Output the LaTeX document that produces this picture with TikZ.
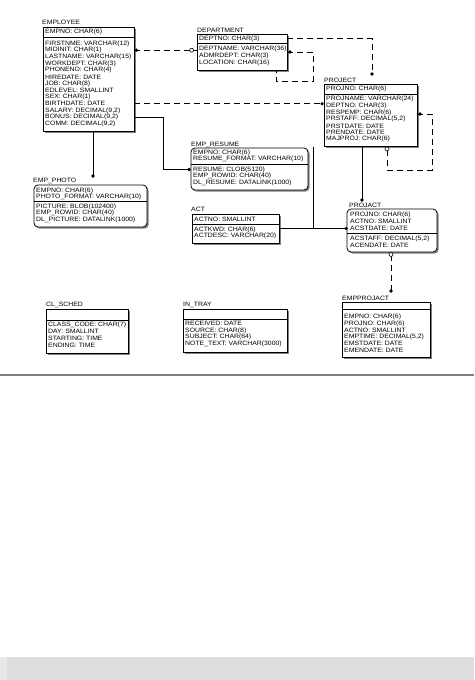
\documentclass[tikz,border=0pt]{standalone}
\usepackage{fontspec}
\setmainfont{Liberation Sans}
\newfontfamily\erdfont[FakeStretch=1.1]{Liberation Sans}
\usetikzlibrary{fit,shadows}
\begin{document}
\begin{tikzpicture}[x=1pt,y=-1pt,
  txt/.style={font=\erdfont\fontsize{6.25}{7}\selectfont, inner sep=0pt, anchor=west},
  ent/.style={draw, line width=0.8pt, fill=white, inner sep=0pt,
    drop shadow={shadow xshift=1.6pt, shadow yshift=-1.6pt, fill=black!50, opacity=1}},
  dep/.style={ent, rounded corners=4pt},
  sepl/.style={line width=0.6pt},
  rel/.style={line width=0.7pt},
  rdash/.style={rel, dash pattern=on 6pt off 4pt},
  fdot/.style={fill=black},
  odot/.style={draw, fill=white, line width=0.6pt}]

\useasboundingbox (0,0) rectangle (474,680);
\fill[white] (0,0) rectangle (474,680);

% ---------------- EMPLOYEE
\node[ent, fit={(43,27) (134,131)}] (emp) {};
\draw[sepl] (emp.west |- 0,37) -- (emp.east |- 0,37);
\node[txt] (empL) at (42,22.5) {EMPLOYEE};
\node[txt] (e0) at (45,32) {EMPNO: CHAR(6)};
\node[txt] (e1) at (45,43.5) {FIRSTNME: VARCHAR(12)};
\node[txt] (e2) at (45,50.2) {MIDINIT: CHAR(1)};
\node[txt] (e3) at (45,56.9) {LASTNAME: VARCHAR(15)};
\node[txt] (e4) at (45,63.6) {WORKDEPT: CHAR(3)};
\node[txt] (e5) at (45,70.3) {PHONENO: CHAR(4)};
\node[txt] (e6) at (45,77) {HIREDATE: DATE};
\node[txt] (e7) at (45,83.7) {JOB: CHAR(8)};
\node[txt] (e8) at (45,90.4) {EDLEVEL: SMALLINT};
\node[txt] (e9) at (45,97.1) {SEX: CHAR(1)};
\node[txt] (e10) at (45,103.8) {BIRTHDATE: DATE};
\node[txt] (e11) at (45,110.5) {SALARY: DECIMAL(9,2)};
\node[txt] (e12) at (45,117.2) {BONUS: DECIMAL(9,2)};
\node[txt] (e13) at (45,123.9) {COMM: DECIMAL(9,2)};

% ---------------- DEPARTMENT
\node[ent, fit={(197,34) (287,70)}] (dept) {};
\draw[sepl] (dept.west |- 0,43.5) -- (dept.east |- 0,43.5);
\node[txt] (deptL) at (197,30) {DEPARTMENT};
\node[txt] (d0) at (199,38.8) {DEPTNO: CHAR(3)};
\node[txt] (d1) at (199,49.3) {DEPTNAME: VARCHAR(36)};
\node[txt] (d2) at (199,56) {ADMRDEPT: CHAR(3)};
\node[txt] (d3) at (199,62.7) {LOCATION: CHAR(16)};

% ---------------- PROJECT
\node[ent, fit={(324,84) (417,146)}] (proj) {};
\draw[sepl] (proj.west |- 0,94) -- (proj.east |- 0,94);
\node[txt] (projL) at (324,80) {PROJECT};
\node[txt] (p0) at (326,89) {PROJNO: CHAR(6)};
\node[txt] (p1) at (326,99.3) {PROJNAME: VARCHAR(24)};
\node[txt] (p2) at (326,106) {DEPTNO: CHAR(3)};
\node[txt] (p3) at (326,112.7) {RESPEMP: CHAR(6)};
\node[txt] (p4) at (326,119.3) {PRSTAFF: DECIMAL(5,2)};
\node[txt] (p5) at (326,126) {PRSTDATE: DATE};
\node[txt] (p6) at (326,132.7) {PRENDATE: DATE};
\node[txt] (p7) at (326,139.3) {MAJPROJ: CHAR(6)};

% ---------------- EMP_PHOTO
\node[dep, fit={(34,185) (147,227)}] (photo) {};
\draw[sepl] (photo.west |- 0,201.5) -- (photo.east |- 0,201.5);
\node[txt] (photoL) at (33,181) {EMP\_PHOTO};
\node[txt] (f0) at (36,190.5) {EMPNO: CHAR(6)};
\node[txt] (f1) at (36,197.2) {PHOTO\_FORMAT: VARCHAR(10)};
\node[txt] (f2) at (36,206.5) {PICTURE: BLOB(102400)};
\node[txt] (f3) at (36,213.2) {EMP\_ROWID: CHAR(40)};
\node[txt] (f4) at (36,219.9) {DL\_PICTURE: DATALINK(1000)};

% ---------------- EMP_RESUME
\node[dep, fit={(191,148) (308,190)}] (res) {};
\draw[sepl] (res.west |- 0,164) -- (res.east |- 0,164);
\node[txt] (resL) at (191,144.5) {EMP\_RESUME};
\node[txt] (s0) at (193,152.5) {EMPNO: CHAR(6)};
\node[txt] (s1) at (193,159.2) {RESUME\_FORMAT: VARCHAR(10)};
\node[txt] (s2) at (193,169.5) {RESUME: CLOB(5120)};
\node[txt] (s3) at (193,176.2) {EMP\_ROWID: CHAR(40)};
\node[txt] (s4) at (193,182.9) {DL\_RESUME: DATALINK(1000)};

% ---------------- ACT
\node[ent, fit={(192,214) (279,243)}] (act) {};
\draw[sepl] (act.west |- 0,224.5) -- (act.east |- 0,224.5);
\node[txt] (actL) at (191,209.5) {ACT};
\node[txt] (a0) at (194,219.2) {ACTNO: SMALLINT};
\node[txt] (a1) at (194,229.5) {ACTKWD: CHAR(6)};
\node[txt] (a2) at (194,236.2) {ACTDESC: VARCHAR(20)};

% ---------------- PROJACT
\node[dep, fit={(347,209) (437,252)}] (pa) {};
\draw[sepl] (pa.west |- 0,233) -- (pa.east |- 0,233);
\node[txt] (paL) at (349,205) {PROJACT};
\node[txt] (q0) at (350,214.5) {PROJNO: CHAR(6)};
\node[txt] (q1) at (350,221.2) {ACTNO: SMALLINT};
\node[txt] (q2) at (350,227.9) {ACSTDATE: DATE};
\node[txt] (q3) at (350,238.5) {ACSTAFF: DECIMAL(5,2)};
\node[txt] (q4) at (350,245.2) {ACENDATE: DATE};

% ---------------- EMPPROJACT
\node[ent, fit={(342,302) (430,357)}] (epa) {};
\draw[sepl] (epa.west |- 0,309.5) -- (epa.east |- 0,309.5);
\node[txt] (epaL) at (342,298) {EMPPROJACT};
\node[txt] (g0) at (344,317) {EMPNO: CHAR(6)};
\node[txt] (g1) at (344,323.7) {PROJNO: CHAR(6)};
\node[txt] (g2) at (344,330.4) {ACTNO: SMALLINT};
\node[txt] (g3) at (344,337.1) {EMPTIME: DECIMAL(5,2)};
\node[txt] (g4) at (344,343.8) {EMSTDATE: DATE};
\node[txt] (g5) at (344,350.5) {EMENDATE: DATE};

% ---------------- CL_SCHED
\node[ent, fit={(46,309) (128,353)}] (cl) {};
\draw[sepl] (cl.west |- 0,320) -- (cl.east |- 0,320);
\node[txt] (clL) at (46,305) {CL\_SCHED};
\node[txt] (c0) at (48,324.8) {CLASS\_CODE: CHAR(7)};
\node[txt] (c1) at (48,331.5) {DAY: SMALLINT};
\node[txt] (c2) at (48,338.2) {STARTING: TIME};
\node[txt] (c3) at (48,344.9) {ENDING: TIME};

% ---------------- IN_TRAY
\node[ent, fit={(183,309) (287,352)}] (tray) {};
\draw[sepl] (tray.west |- 0,319.5) -- (tray.east |- 0,319.5);
\node[txt] (trayL) at (183,305) {IN\_TRAY};
\node[txt] (t0) at (185,323.8) {RECEIVED: DATE};
\node[txt] (t1) at (185,330.5) {SOURCE: CHAR(8)};
\node[txt] (t2) at (185,337.2) {SUBJECT: CHAR(64)};
\node[txt] (t3) at (185,343.9) {NOTE\_TEXT: VARCHAR(3000)};

% ================= relationships
% EMPLOYEE - DEPARTMENT
\coordinate (r1a) at (emp.east |- e2);
\coordinate (r1b) at (dept.west |- e2);
\draw[rdash] (r1a) -- (r1b);
\fill[fdot] ([xshift=2pt]r1a) circle (1.8pt);
\draw[odot] ([xshift=-5pt]r1b) circle (2pt);

% DEPARTMENT - PROJECT
\coordinate (r2a) at (dept.east |- d0);
\coordinate (r2b) at (372,74);
\draw[rdash] (r2a) -| (r2b);
\fill[fdot] (r2b) circle (1.8pt);

% DEPARTMENT self loop
\coordinate (r3a) at (287,52);
\coordinate (r3b) at (313,81);
\coordinate (r3c) at (276,81);
\draw[rdash] (r3a) -| (r3b) -- (r3c) -- (r3c |- dept.south);
\fill[fdot] ([xshift=3pt]r3a) circle (1.8pt);

% EMPLOYEE - PROJECT
\coordinate (r4a) at (emp.east |- e10);
\coordinate (r4b) at (proj.west |- e10);
\draw[rdash] (r4a) -- (r4b);
\fill[fdot] ([xshift=-1.5pt]r4b) circle (1.8pt);

% PROJECT self loop
\coordinate (r5a) at (417,114);
\coordinate (r5b) at (432,170);
\coordinate (r5c) at (387,149);
\draw[rdash] (r5a) -| (r5b) -| (r5c);
\fill[fdot] ([xshift=3pt]r5a) circle (1.8pt);
\draw[odot] (r5c) circle (2pt);

% PROJECT - PROJACT
\coordinate (r6) at (362,200);
\draw[rel] (proj.south -| r6) -- (r6);
\fill[fdot] (r6) circle (1.8pt);

% vertical segment
\coordinate (r7a) at (313,147);
\coordinate (r7b) at (313 ,228.5);
\draw[rel] (r7a) -- (r7b);

% ACT - PROJACT
\coordinate (r8a) at (act.east |- r7b);
\coordinate (r8b) at (pa.west |- r7b);
\draw[rel] (r8a) -- (r8b);
\fill[fdot] ([xshift=-0.5pt]r8b) circle (1.8pt);

% PROJACT - EMPPROJACT
\coordinate (r9a) at (391,254.5);
\coordinate (r9b) at (391,291);
\draw[rdash] (r9a) -- (r9b);
\draw[odot] (r9a) circle (2pt);
\fill[fdot] (r9b) circle (1.8pt);

% EMPLOYEE - EMP_PHOTO
\coordinate (r10) at (93,176);
\draw[rel] (emp.south -| r10) -- (r10);
\fill[fdot] (r10) circle (1.8pt);

% EMPLOYEE - EMP_RESUME
\coordinate (r11a) at (emp.east |- e12);
\coordinate (r11m) at (163,117.2);
\coordinate (r11b) at (189,169.5);
\draw[rel] (r11a) -- (r11m) |- (r11b);
\fill[fdot] (r11b) circle (1.8pt);

% ================= page elements
\draw[line width=1.2pt, black!50] (0,375) -- (474,375);
\fill[black!13] (0,657) rectangle (474,680);
\fill[black!9] (0,657) rectangle (7,680);
\end{tikzpicture}
\end{document}
